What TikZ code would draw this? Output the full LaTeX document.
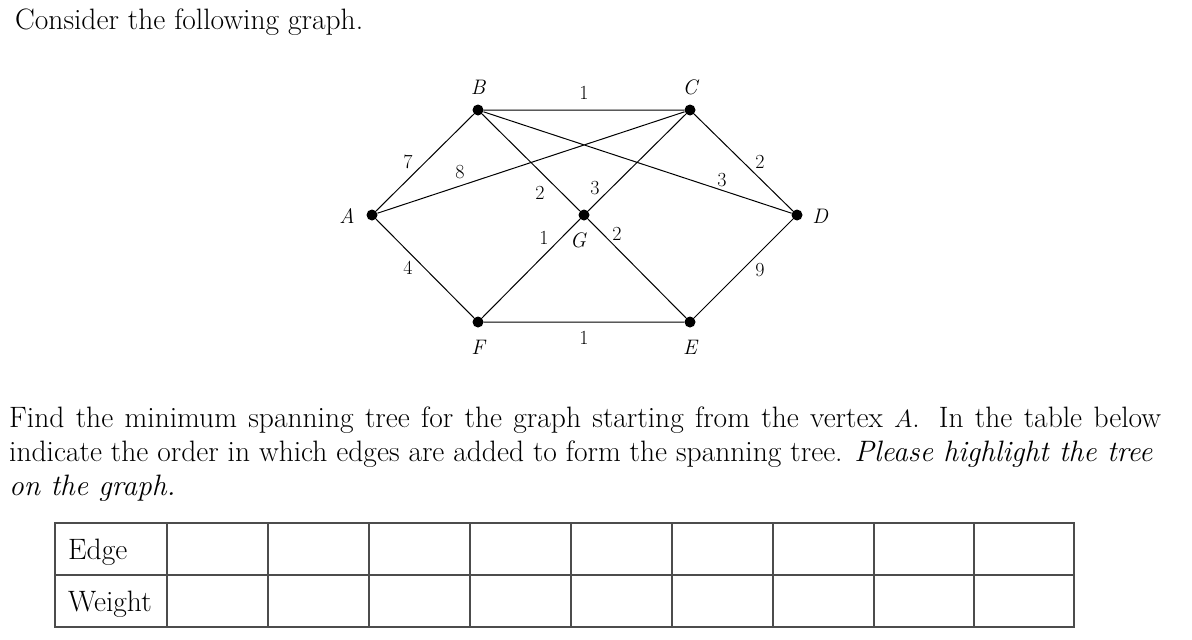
\documentclass[tikz,border=0pt]{standalone}
\begin{document}
\begin{tikzpicture}[x=1pt,y=-1pt,
  vtx/.style={circle,fill=black,inner sep=0pt,minimum size=11pt},
  elab/.style={font=\fontsize{20}{22}\selectfont,inner sep=1pt},
  vlab/.style={font=\fontsize{21}{22}\selectfont\itshape,inner sep=1pt},
  body/.style={font=\fontsize{29.5}{34}\selectfont,inner sep=0pt,anchor=base west},
  edge/.style={line width=1pt},
  tab/.style={line width=1.2pt,draw=black!70}]
\useasboundingbox (0,0) rectangle (1192,640);
\node[body] (t1) at (15,29) {Consider the following graph.};
\node (A) [vtx] at (372,215) {};
\node (B) [vtx] at (478,110) {};
\node (C) [vtx] at (690,110) {};
\node (D) [vtx] at (797,215) {};
\node (E) [vtx] at (690,322) {};
\node (F) [vtx] at (478,322) {};
\node (G) [vtx] at (584,215) {};
\draw[edge] (A)--(B) (A)--(C) (A)--(F) (B)--(C) (B)--(G) (B)--(D) (C)--(G) (C)--(D) (G)--(F) (G)--(E) (F)--(E) (E)--(D);
\node[vlab] (lA) at (347,216) {A};
\node[vlab] (lB) at (478,87) {B};
\node[vlab] (lC) at (690,87) {C};
\node[vlab] (lD) at (820,216) {D};
\node[vlab] (lE) at (690,347) {E};
\node[vlab] (lF) at (478,347) {F};
\node[vlab] (lG) at (578,240) {G};
\node[elab] (w1) at (408,162) {7};
\node[elab] (w2) at (460,172) {8};
\node[elab] (w3) at (540,193) {2};
\node[elab] (w4) at (595,188) {3};
\node[elab] (w5) at (722,180) {3};
\node[elab] (w6) at (760,162) {2};
\node[elab] (w7) at (584,93) {1};
\node[elab] (w8) at (544,238) {1};
\node[elab] (w9) at (617,234) {2};
\node[elab] (w10) at (408,268) {4};
\node[elab] (w11) at (760,270) {9};
\node[elab] (w12) at (584,338) {1};
\node[body,anchor=north west,text width=1152pt,align=justify] (t2) at (9,407) {Find the minimum spanning tree for the graph starting from the vertex $A$. In the table below indicate the order in which edges are added to form the spanning tree. \textit{Please highlight the tree\\ on the graph.}};
\draw[tab] (55,523) rectangle (1074,627);
\draw[tab] (55,575)--(1074,575);
\foreach \x in {167,268,369,470,571,672,773,874,974}{\draw[tab] (\x,523)--(\x,627);}
\node[body] (e) at (68,559) {Edge};
\node[body] (w) at (68,611) {Weight};
\end{tikzpicture}
\end{document}
